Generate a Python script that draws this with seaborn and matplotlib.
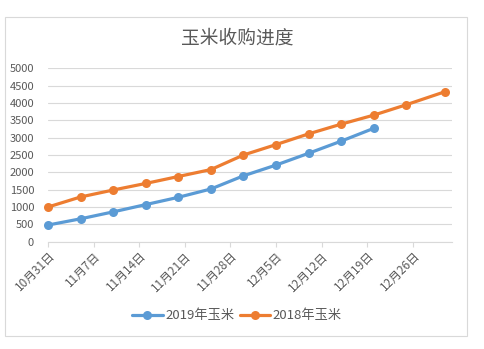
import matplotlib
matplotlib.use("Agg")
import matplotlib.pyplot as plt
import matplotlib.dates as mdates
from matplotlib.patches import Rectangle
from matplotlib.ticker import FixedLocator
import numpy as np
import pandas as pd
import seaborn as sns

# Purchase progress data (sampling dates every five days)
dates = ["2019-10-31", "2019-11-05", "2019-11-10", "2019-11-15", "2019-11-20",
         "2019-11-25", "2019-11-30", "2019-12-05", "2019-12-10", "2019-12-15",
         "2019-12-20", "2019-12-25", "2019-12-31"]
corn_2019 = [480, 660, 860, 1070, 1280, 1520, 1900, 2210, 2550, 2900, 3270]
corn_2018 = [1000, 1290, 1490, 1680, 1880, 2080, 2500, 2800, 3110, 3390, 3650, 3950, 4330]
series_names = ["2019年玉米", "2018年玉米"]
series_colors = ["#5B9BD5", "#ED7D31"]

tick_dates = ["2019-10-31", "2019-11-07", "2019-11-14", "2019-11-21", "2019-11-28",
              "2019-12-05", "2019-12-12", "2019-12-19", "2019-12-26"]
tick_labels = ["10月31日", "11月7日", "11月14日", "11月21日", "11月28日",
               "12月5日", "12月12日", "12月19日", "12月26日"]
y_ticks = list(range(0, 5001, 500))
title = "玉米收购进度"

df = pd.concat([
    pd.DataFrame({"date": pd.to_datetime(dates[:len(corn_2019)]), "value": corn_2019,
                  "series": series_names[0]}),
    pd.DataFrame({"date": pd.to_datetime(dates[:len(corn_2018)]), "value": corn_2018,
                  "series": series_names[1]}),
])

sns.set_theme(style="white")
plt.rcParams["font.family"] = ["Noto Sans CJK SC", "DejaVu Sans"]

W, H = 484, 349
fig = plt.figure(figsize=(W / 100, H / 100), dpi=100)
fig.patch.set_facecolor("white")

# chart frame
fig.patches.append(Rectangle((5 / W, 1 - 336 / H), 462 / W, 319 / H,
                             transform=fig.transFigure, fill=False,
                             edgecolor="#d9d9d9", linewidth=0.8))

ax = fig.add_axes([48 / W, 1 - 241.7 / H, 404 / W, 173.4 / H])
sns.lineplot(data=df, x="date", y="value", hue="series", hue_order=series_names,
             palette=series_colors, marker="o", markersize=6.5, markeredgewidth=0,
             linewidth=2.3, ax=ax, legend=True)
for line in ax.lines:
    line.set_clip_on(False)

ax.set_ylim(0, 5000)
ax.set_yticks(y_ticks)
ax.set_yticklabels([str(v) for v in y_ticks])
ax.set_xlim(mdates.date2num(pd.Timestamp("2019-10-31")),
            mdates.date2num(pd.Timestamp("2020-01-01")))
ax.xaxis.set_major_locator(FixedLocator(mdates.date2num(pd.to_datetime(tick_dates))))
ax.set_xticklabels(tick_labels, rotation=45, ha="right", rotation_mode="anchor")

ax.grid(axis="y", color="#d9d9d9", linewidth=0.8)
ax.grid(axis="x", visible=False)
ax.set_axisbelow(True)
for s in ["left", "right", "top"]:
    ax.spines[s].set_visible(False)
ax.spines["bottom"].set_color("#d9d9d9")
ax.spines["bottom"].set_linewidth(0.8)
ax.tick_params(axis="x", bottom=True, length=3.5, width=0.8, color="#d9d9d9",
               labelsize=8.5, labelcolor="#595959", pad=2)
ax.tick_params(axis="y", left=False, labelsize=8, labelcolor="#595959", pad=4)
ax.set_xlabel("")
ax.set_ylabel("")

handles, labels = ax.get_legend_handles_labels()
ax.legend_.remove()
fig.legend(handles, labels, loc="center", bbox_to_anchor=(237 / W, 1 - 316 / H),
           ncol=2, frameon=False, fontsize=9.5, handlelength=2.3, columnspacing=0.4,
           handletextpad=0.2, labelcolor="#595959")

fig.text(237 / W, 1 - 38 / H, title, ha="center", va="center", fontsize=13.5,
         color="#595959", fontweight="light")

fig.savefig("out.png", dpi=100, facecolor="white")
